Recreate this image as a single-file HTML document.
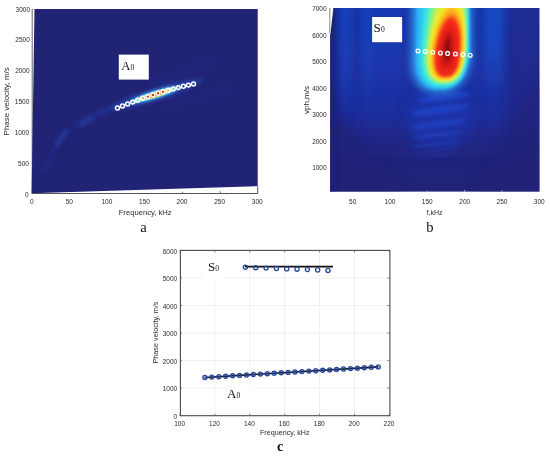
<!DOCTYPE html><html><head><meta charset="utf-8"><title>Phase velocity figure</title>
<style>html,body{margin:0;padding:0;background:#fff;}svg{display:block}.t{font-family:"Liberation Sans",sans-serif;fill:#2a2a2a}.s{font-family:"Liberation Serif",serif;fill:#111}</style></head><body>
<svg width="550" height="459" viewBox="0 0 550 459">
<defs>
<radialGradient id="ga" cx="0.5" cy="0.5" r="0.5">
<stop offset="0" stop-color="#e82818"/>
<stop offset="0.27" stop-color="#ee3a1a"/>
<stop offset="0.35" stop-color="#f59a20"/>
<stop offset="0.41" stop-color="#ece83c"/>
<stop offset="0.49" stop-color="#90f0b0"/>
<stop offset="0.58" stop-color="#58d0f0" stop-opacity="0.95"/>
<stop offset="0.76" stop-color="#2c6cd8" stop-opacity="0.6"/>
<stop offset="1" stop-color="#212375" stop-opacity="0"/>
</radialGradient>
<linearGradient id="bgbase" x1="0" y1="0" x2="0" y2="1">
<stop offset="0" stop-color="#1f2c94"/>
<stop offset="0.6" stop-color="#20288a"/>
<stop offset="0.85" stop-color="#21247a"/>
<stop offset="1" stop-color="#212377"/>
</linearGradient>
<linearGradient id="bgb" x1="0" y1="0" x2="0" y2="1">
<stop offset="0" stop-color="#183cb8"/>
<stop offset="0.5" stop-color="#1a36ae"/>
<stop offset="0.75" stop-color="#1c2ea0" stop-opacity="0.75"/>
<stop offset="1" stop-color="#212377" stop-opacity="0"/>
</linearGradient>
<linearGradient id="fadeDown" x1="0" y1="0" x2="0" y2="1">
<stop offset="0" stop-color="#fff" stop-opacity="1"/>
<stop offset="0.6" stop-color="#fff" stop-opacity="0.8"/>
<stop offset="1" stop-color="#fff" stop-opacity="0"/>
</linearGradient>
<filter id="bl15" filterUnits="userSpaceOnUse" x="-50" y="-100" width="650" height="660"><feGaussianBlur stdDeviation="1.5"/></filter>
<filter id="bl2" filterUnits="userSpaceOnUse" x="-50" y="-100" width="650" height="660"><feGaussianBlur stdDeviation="2"/></filter>
<filter id="bl3" filterUnits="userSpaceOnUse" x="-50" y="-100" width="650" height="660"><feGaussianBlur stdDeviation="3"/></filter>
<filter id="bl4" filterUnits="userSpaceOnUse" x="-50" y="-100" width="650" height="660"><feGaussianBlur stdDeviation="4"/></filter>
<filter id="bl6" filterUnits="userSpaceOnUse" x="-50" y="-100" width="650" height="660"><feGaussianBlur stdDeviation="6"/></filter>
<filter id="bl1" filterUnits="userSpaceOnUse" x="-50" y="-100" width="650" height="660"><feGaussianBlur stdDeviation="0.9"/></filter>
<clipPath id="ca"><polygon points="34.5,9.1 257.7,9.1 257.7,186.1 31.6,193.2"/></clipPath>
<clipPath id="cb"><rect x="330.2" y="8" width="209.3" height="183.6"/></clipPath>
</defs>
<rect width="550" height="459" fill="#fff"/>
<g id="plot-a">
<path d="M32.2 9V193.5" stroke="#666" stroke-width="1" fill="none"/>
<polygon points="34.5,9.1 257.7,9.1 257.7,186.1 31.6,193.2" fill="#212375"/>
<g clip-path="url(#ca)">
<path d="M44 172 Q52 150 66 132 Q84 116 108 108" stroke="#2a44b4" stroke-width="3" fill="none" opacity="0.3" filter="url(#bl2)"/>
<path d="M56 146 Q60 138 67 130" stroke="#2c56c8" stroke-width="4" fill="none" opacity="0.5" filter="url(#bl2)"/>
<path d="M79 127 Q86 121 94 117" stroke="#2c56c8" stroke-width="4" fill="none" opacity="0.5" filter="url(#bl2)"/>
<path d="M96 116 L108 110" stroke="#2c56c8" stroke-width="3" fill="none" opacity="0.4" filter="url(#bl2)"/>
<path d="M150 84 L215 60" stroke="#2c50c0" stroke-width="6" fill="none" opacity="0.15" filter="url(#bl3)"/>
<path d="M160 100 L235 92" stroke="#2c50c0" stroke-width="5" fill="none" opacity="0.1" filter="url(#bl3)"/>
<g transform="translate(155.2,94.6) rotate(-17.2)">
<ellipse cx="0" cy="0" rx="50" ry="6" fill="#2c5cd0" opacity="0.5" filter="url(#bl2)"/>
<ellipse cx="0" cy="0" rx="25" ry="4.2" fill="#a8f0ff" opacity="0.55" filter="url(#bl15)"/>
<ellipse cx="0" cy="0" rx="36" ry="5.6" fill="url(#ga)"/>
</g>
</g>
<path d="M31.7 193.5H257.7V186" stroke="#555" stroke-width="1" fill="none"/>
<path d="M220.2 193V191.2M182.6 193V191.8" stroke="#555" stroke-width="0.8" fill="none"/>
<circle cx="117.5" cy="108.0" r="1.95" fill="none" stroke="#fff" stroke-width="1.5"/>
<circle cx="122.5" cy="106.0" r="1.95" fill="none" stroke="#fff" stroke-width="1.5"/>
<circle cx="127.6" cy="104.0" r="1.95" fill="none" stroke="#fff" stroke-width="1.5"/>
<circle cx="132.7" cy="102.1" r="1.95" fill="none" stroke="#fff" stroke-width="1.5"/>
<circle cx="137.7" cy="100.2" r="1.95" fill="none" stroke="#fff" stroke-width="1.5"/>
<circle cx="142.8" cy="98.3" r="1.95" fill="none" stroke="#fff" stroke-width="1.5"/>
<circle cx="147.9" cy="96.6" r="1.95" fill="none" stroke="#fff" stroke-width="1.5"/>
<circle cx="152.9" cy="94.9" r="1.95" fill="none" stroke="#fff" stroke-width="1.5"/>
<circle cx="158.0" cy="93.3" r="1.95" fill="none" stroke="#fff" stroke-width="1.5"/>
<circle cx="163.1" cy="91.7" r="1.95" fill="none" stroke="#fff" stroke-width="1.5"/>
<circle cx="168.2" cy="90.3" r="1.95" fill="none" stroke="#fff" stroke-width="1.5"/>
<circle cx="173.2" cy="88.9" r="1.95" fill="none" stroke="#fff" stroke-width="1.5"/>
<circle cx="178.3" cy="87.6" r="1.95" fill="none" stroke="#fff" stroke-width="1.5"/>
<circle cx="183.4" cy="86.3" r="1.95" fill="none" stroke="#fff" stroke-width="1.5"/>
<circle cx="188.4" cy="85.1" r="1.95" fill="none" stroke="#fff" stroke-width="1.5"/>
<circle cx="193.5" cy="83.9" r="1.95" fill="none" stroke="#fff" stroke-width="1.5"/>
<rect x="118.8" y="54.6" width="30" height="25" fill="#fff"/>
<text class="s" x="121.2" y="69.7" font-size="12.8">A<tspan font-size="7.6">0</tspan></text>
<text class="t" x="31.7" y="204.3" font-size="6.5" text-anchor="middle">0</text>
<text class="t" x="69.3" y="204.3" font-size="6.5" text-anchor="middle">50</text>
<text class="t" x="106.9" y="204.3" font-size="6.5" text-anchor="middle">100</text>
<text class="t" x="144.5" y="204.3" font-size="6.5" text-anchor="middle">150</text>
<text class="t" x="182.0" y="204.3" font-size="6.5" text-anchor="middle">200</text>
<text class="t" x="219.6" y="204.3" font-size="6.5" text-anchor="middle">250</text>
<text class="t" x="257.2" y="204.3" font-size="6.5" text-anchor="middle">300</text>
<text class="t" x="28.7" y="197.0" font-size="6.5" text-anchor="end">0</text>
<text class="t" x="28.9" y="166.1" font-size="6.5" text-anchor="end">500</text>
<text class="t" x="29.1" y="135.1" font-size="6.5" text-anchor="end">1000</text>
<text class="t" x="29.3" y="104.2" font-size="6.5" text-anchor="end">1500</text>
<text class="t" x="29.6" y="73.2" font-size="6.5" text-anchor="end">2000</text>
<text class="t" x="29.8" y="42.2" font-size="6.5" text-anchor="end">2500</text>
<text class="t" x="30.0" y="12.0" font-size="6.5" text-anchor="end">3000</text>
<text class="t" x="118.7" y="215" font-size="8" textLength="53" lengthAdjust="spacingAndGlyphs">Frequency, kHz</text>
<text class="t" transform="translate(9,135.4) rotate(-90)" font-size="8.1" textLength="68.2" lengthAdjust="spacingAndGlyphs">Phase velocity, m/s</text>
<text class="s" x="143.6" y="231.8" font-size="14.6" text-anchor="middle">a</text>
</g>
<g id="plot-b">
<rect x="330.2" y="8" width="209.3" height="183.6" fill="url(#bgbase)"/>
<g clip-path="url(#cb)">
<rect x="338" y="-30" width="167" height="195" fill="url(#bgb)" filter="url(#bl6)"/>
<polygon points="322,95 322,200 410,200" fill="#212377" opacity="0.7" filter="url(#bl6)"/>
<polygon points="545,70 545,200 470,200" fill="#212377" opacity="0.6" filter="url(#bl6)"/>
<rect x="326" y="0" width="10" height="200" fill="#1f2272" opacity="0.8" filter="url(#bl2)"/>
<linearGradient id="bg340" x1="0" y1="0" x2="0" y2="1"><stop offset="0" stop-color="#1a4cc4"/><stop offset="0.55" stop-color="#1a4cc4" stop-opacity="0.8"/><stop offset="1" stop-color="#1a4cc4" stop-opacity="0"/></linearGradient>
<rect x="340" y="-20" width="12" height="140" fill="url(#bg340)" opacity="0.45" filter="url(#bl3)"/>
<linearGradient id="bg354" x1="0" y1="0" x2="0" y2="1"><stop offset="0" stop-color="#202880"/><stop offset="0.55" stop-color="#202880" stop-opacity="0.8"/><stop offset="1" stop-color="#202880" stop-opacity="0"/></linearGradient>
<rect x="354" y="-20" width="6" height="160" fill="url(#bg354)" opacity="0.5" filter="url(#bl3)"/>
<linearGradient id="bg362" x1="0" y1="0" x2="0" y2="1"><stop offset="0" stop-color="#1a4cc4"/><stop offset="0.55" stop-color="#1a4cc4" stop-opacity="0.8"/><stop offset="1" stop-color="#1a4cc4" stop-opacity="0"/></linearGradient>
<rect x="362" y="-20" width="10" height="140" fill="url(#bg362)" opacity="0.4" filter="url(#bl3)"/>
<linearGradient id="bg402" x1="0" y1="0" x2="0" y2="1"><stop offset="0" stop-color="#202880"/><stop offset="0.55" stop-color="#202880" stop-opacity="0.8"/><stop offset="1" stop-color="#202880" stop-opacity="0"/></linearGradient>
<rect x="402" y="-20" width="9" height="150" fill="url(#bg402)" opacity="0.4" filter="url(#bl3)"/>
<linearGradient id="bg474" x1="0" y1="0" x2="0" y2="1"><stop offset="0" stop-color="#202880"/><stop offset="0.55" stop-color="#202880" stop-opacity="0.8"/><stop offset="1" stop-color="#202880" stop-opacity="0"/></linearGradient>
<rect x="474" y="-20" width="8" height="150" fill="url(#bg474)" opacity="0.35" filter="url(#bl3)"/>
<linearGradient id="bg485" x1="0" y1="0" x2="0" y2="1"><stop offset="0" stop-color="#1a54c8"/><stop offset="0.55" stop-color="#1a54c8" stop-opacity="0.8"/><stop offset="1" stop-color="#1a54c8" stop-opacity="0"/></linearGradient>
<rect x="485" y="-20" width="18" height="120" fill="url(#bg485)" opacity="0.7" filter="url(#bl3)"/>
<ellipse cx="440" cy="118" rx="34" ry="32" fill="#1c34b0" opacity="0.55" filter="url(#bl6)"/>
<ellipse cx="444" cy="97" rx="27" ry="3.8" fill="#2450dc" opacity="0.51" filter="url(#bl15)" transform="rotate(-8 444 97)"/>
<ellipse cx="440" cy="110" rx="29" ry="4.6" fill="#2450dc" opacity="0.47" filter="url(#bl15)" transform="rotate(-8 440 110)"/>
<ellipse cx="438" cy="124" rx="27" ry="3.8" fill="#2450dc" opacity="0.42" filter="url(#bl15)" transform="rotate(-8 438 124)"/>
<ellipse cx="436" cy="135" rx="26" ry="2.6" fill="#2450dc" opacity="0.36" filter="url(#bl15)" transform="rotate(-8 436 135)"/>
<ellipse cx="434" cy="144" rx="26" ry="1.7" fill="#2450dc" opacity="0.30" filter="url(#bl15)" transform="rotate(-8 434 144)"/>
<ellipse cx="434" cy="150.5" rx="27" ry="1.3" fill="#2450dc" opacity="0.24" filter="url(#bl15)" transform="rotate(-8 434 150.5)"/>
<ellipse cx="434" cy="156.5" rx="28" ry="1.1" fill="#2450dc" opacity="0.17" filter="url(#bl15)" transform="rotate(-8 434 156.5)"/>
<polygon points="471.1,52.0 470.6,57.7 470.0,61.9 469.2,65.6 468.3,69.0 467.3,72.1 466.1,75.0 464.7,77.6 463.2,80.1 461.5,82.3 459.7,84.3 457.8,86.1 455.7,87.7 453.5,89.0 451.1,90.1 448.5,90.9 445.7,91.5 442.6,91.9 438.4,92.0 434.2,91.9 431.2,91.5 428.5,90.9 426.1,90.1 423.8,89.0 421.8,87.7 420.0,86.1 418.3,84.3 416.8,82.3 415.5,80.1 414.4,77.6 413.5,75.0 412.7,72.1 412.2,69.0 411.8,65.6 411.7,61.9 411.7,57.7 412.1,52.0 412.3,25.9 412.8,-0.1 413.6,-25.6 414.7,-50.6 416.1,-74.8 417.8,-98.0 419.7,-120.1 421.8,-140.8 424.1,-160.1 426.4,-177.8 428.8,-193.7 431.2,-207.8 433.5,-219.9 435.7,-229.9 437.7,-237.8 439.5,-243.4 440.8,-246.9 441.6,-248.0 442.4,-246.9 443.7,-243.4 445.5,-237.8 447.5,-229.9 449.7,-219.9 452.0,-207.8 454.4,-193.7 456.8,-177.8 459.1,-160.1 461.4,-140.8 463.5,-120.1 465.4,-98.0 467.1,-74.8 468.5,-50.6 469.6,-25.6 470.4,-0.1 470.9,25.9" fill="#30a2ee" filter="url(#bl4)"/>
<g filter="url(#bl1)">
<polygon points="470.0,52.0 469.5,57.3 468.9,61.2 468.2,64.7 467.4,67.9 466.5,70.8 465.3,73.5 464.1,76.0 462.7,78.3 461.2,80.4 459.5,82.3 457.8,84.0 455.8,85.4 453.8,86.7 451.6,87.7 449.2,88.5 446.7,89.0 443.8,89.4 440.0,89.5 436.2,89.4 433.4,89.0 430.9,88.5 428.7,87.7 426.7,86.7 424.8,85.4 423.1,84.0 421.6,82.3 420.3,80.4 419.1,78.3 418.1,76.0 417.2,73.5 416.5,70.8 416.0,67.9 415.7,64.7 415.6,61.2 415.7,57.3 416.0,52.0 416.2,25.9 416.6,-0.1 417.4,-25.6 418.4,-50.6 419.7,-74.8 421.2,-98.0 423.0,-120.1 424.9,-140.8 426.9,-160.1 429.1,-177.8 431.3,-193.7 433.5,-207.8 435.6,-219.9 437.6,-229.9 439.4,-237.8 441.0,-243.4 442.3,-246.9 443.0,-248.0 443.7,-246.9 445.0,-243.4 446.6,-237.8 448.4,-229.9 450.4,-219.9 452.5,-207.8 454.7,-193.7 456.9,-177.8 459.1,-160.1 461.1,-140.8 463.0,-120.1 464.8,-98.0 466.3,-74.8 467.6,-50.6 468.6,-25.6 469.4,-0.1 469.8,25.9" fill="#2cacf4"/>
<polygon points="469.3,52.0 468.8,57.2 468.3,61.0 467.6,64.4 466.8,67.5 465.9,70.4 464.8,73.0 463.6,75.5 462.3,77.7 460.8,79.7 459.3,81.6 457.5,83.2 455.7,84.6 453.7,85.8 451.6,86.8 449.4,87.6 446.9,88.2 444.2,88.5 440.5,88.6 436.8,88.5 434.2,88.2 431.8,87.6 429.7,86.8 427.7,85.8 425.9,84.6 424.3,83.2 422.9,81.6 421.6,79.7 420.5,77.7 419.5,75.5 418.7,73.0 418.0,70.4 417.5,67.5 417.2,64.4 417.1,61.0 417.2,57.2 417.5,52.0 418.0,30.2 418.7,8.6 419.7,-12.7 421.0,-33.5 422.5,-53.7 424.2,-73.0 426.1,-91.4 428.2,-108.7 430.4,-124.8 432.6,-139.5 434.9,-152.8 437.2,-164.5 439.3,-174.6 441.4,-182.9 443.2,-189.5 444.8,-194.2 446.1,-197.0 446.8,-198.0 447.4,-197.0 448.6,-194.2 450.1,-189.5 451.7,-182.9 453.6,-174.6 455.5,-164.5 457.4,-152.8 459.3,-139.5 461.2,-124.8 462.9,-108.7 464.5,-91.4 466.0,-73.0 467.2,-53.7 468.2,-33.5 468.9,-12.7 469.3,8.6 469.5,30.2" fill="#2dbbf3"/>
<polygon points="468.7,52.0 468.2,57.1 467.7,60.8 467.0,64.1 466.3,67.1 465.4,69.9 464.3,72.5 463.2,74.9 461.9,77.1 460.5,79.1 459.0,80.8 457.3,82.4 455.6,83.8 453.7,85.0 451.7,86.0 449.5,86.7 447.2,87.3 444.5,87.6 441.0,87.7 437.5,87.6 434.9,87.3 432.7,86.7 430.6,86.0 428.8,85.0 427.1,83.8 425.5,82.4 424.1,80.8 422.9,79.1 421.8,77.1 420.9,74.9 420.1,72.5 419.5,69.9 419.1,67.1 418.8,64.1 418.7,60.8 418.7,57.1 419.1,52.0 419.7,34.6 420.6,17.3 421.7,0.2 423.1,-16.4 424.7,-32.5 426.5,-48.0 428.5,-62.7 430.7,-76.6 432.9,-89.4 435.2,-101.2 437.5,-111.8 439.7,-121.2 441.9,-129.3 443.9,-135.9 445.8,-141.2 447.3,-145.0 448.5,-147.2 449.2,-148.0 449.8,-147.2 450.9,-145.0 452.3,-141.2 453.8,-135.9 455.5,-129.3 457.3,-121.2 459.0,-111.8 460.7,-101.2 462.4,-89.4 463.9,-76.6 465.3,-62.7 466.5,-48.0 467.5,-32.5 468.3,-16.4 468.8,0.2 469.0,17.3 469.0,34.6" fill="#2fc9f1"/>
<polygon points="468.0,52.0 467.5,56.9 467.0,60.6 466.4,63.8 465.7,66.8 464.8,69.5 463.8,72.0 462.7,74.3 461.5,76.4 460.2,78.4 458.7,80.1 457.1,81.7 455.4,83.0 453.6,84.2 451.7,85.1 449.6,85.8 447.4,86.4 444.9,86.7 441.5,86.8 438.2,86.7 435.7,86.4 433.6,85.8 431.6,85.1 429.8,84.2 428.2,83.0 426.7,81.7 425.4,80.1 424.2,78.4 423.2,76.4 422.3,74.3 421.6,72.0 421.0,69.5 420.6,66.8 420.3,63.8 420.2,60.6 420.3,56.9 420.6,52.0 421.3,38.9 422.2,26.0 423.4,13.2 424.8,0.7 426.4,-11.4 428.2,-23.0 430.2,-34.0 432.3,-44.4 434.5,-54.1 436.7,-62.9 438.9,-70.9 441.1,-77.9 443.2,-83.9 445.2,-89.0 447.0,-92.9 448.5,-95.7 449.7,-97.4 450.3,-98.0 450.9,-97.4 451.9,-95.7 453.2,-92.9 454.7,-89.0 456.2,-83.9 457.9,-77.9 459.5,-70.9 461.1,-62.9 462.6,-54.1 464.0,-44.4 465.3,-34.0 466.4,-23.0 467.3,-11.4 467.9,0.7 468.4,13.2 468.5,26.0 468.4,38.9" fill="#30d8f0"/>
<polygon points="467.6,52.0 467.1,56.8 466.7,60.4 466.1,63.5 465.3,66.4 464.5,69.1 463.5,71.5 462.5,73.8 461.3,75.9 460.0,77.8 458.6,79.5 457.1,81.0 455.4,82.3 453.7,83.5 451.8,84.4 449.8,85.1 447.7,85.6 445.2,85.9 442.0,86.0 438.7,85.9 436.4,85.6 434.3,85.1 432.4,84.4 430.7,83.5 429.1,82.3 427.7,81.0 426.4,79.5 425.3,77.8 424.3,75.9 423.4,73.8 422.7,71.5 422.2,69.1 421.8,66.4 421.5,63.5 421.4,60.4 421.5,56.8 421.8,52.0 422.5,40.0 423.4,28.1 424.5,16.4 425.9,4.9 427.5,-6.2 429.2,-16.8 431.1,-27.0 433.2,-36.5 435.3,-45.3 437.5,-53.5 439.6,-60.8 441.8,-67.2 443.8,-72.8 445.7,-77.4 447.4,-81.0 448.9,-83.6 450.1,-85.1 450.7,-85.7 451.2,-85.1 452.2,-83.6 453.5,-81.0 454.9,-77.4 456.4,-72.8 458.0,-67.2 459.5,-60.8 461.1,-53.5 462.5,-45.3 463.9,-36.5 465.1,-27.0 466.1,-16.8 467.0,-6.2 467.6,4.9 468.0,16.4 468.1,28.1 468.0,40.0" fill="#3be0e0"/>
<polygon points="467.2,52.0 466.8,56.7 466.3,60.2 465.7,63.3 465.0,66.1 464.2,68.7 463.3,71.1 462.2,73.3 461.1,75.4 459.8,77.2 458.5,78.9 457.0,80.4 455.4,81.7 453.7,82.7 451.9,83.7 450.0,84.4 447.9,84.9 445.6,85.2 442.4,85.3 439.3,85.2 437.0,84.9 435.0,84.4 433.2,83.7 431.5,82.7 430.0,81.7 428.7,80.4 427.4,78.9 426.3,77.2 425.4,75.4 424.6,73.3 423.9,71.1 423.3,68.7 422.9,66.1 422.7,63.3 422.6,60.2 422.7,56.7 423.0,52.0 423.6,41.1 424.5,30.2 425.6,19.6 427.0,9.1 428.5,-1.0 430.2,-10.7 432.1,-19.9 434.0,-28.6 436.1,-36.6 438.2,-44.0 440.3,-50.7 442.4,-56.5 444.3,-61.6 446.2,-65.8 447.8,-69.1 449.3,-71.4 450.4,-72.9 450.9,-73.3 451.5,-72.9 452.5,-71.4 453.7,-69.1 455.0,-65.8 456.5,-61.6 458.0,-56.5 459.5,-50.7 461.0,-44.0 462.4,-36.6 463.7,-28.6 464.8,-19.9 465.8,-10.7 466.6,-1.0 467.2,9.1 467.6,19.6 467.7,30.2 467.6,41.1" fill="#45e8d0"/>
<polygon points="466.8,52.0 466.4,56.6 465.9,60.0 465.3,63.0 464.7,65.8 463.9,68.3 463.0,70.7 462.0,72.8 460.9,74.8 459.7,76.6 458.4,78.3 456.9,79.7 455.4,81.0 453.8,82.0 452.1,82.9 450.2,83.6 448.2,84.1 445.9,84.4 442.9,84.5 439.9,84.4 437.7,84.1 435.7,83.6 434.0,82.9 432.4,82.0 430.9,81.0 429.6,79.7 428.4,78.3 427.4,76.6 426.5,74.8 425.7,72.8 425.0,70.7 424.5,68.3 424.1,65.8 423.9,63.0 423.8,60.0 423.9,56.6 424.2,52.0 424.8,42.2 425.7,32.4 426.7,22.8 428.0,13.4 429.5,4.2 431.2,-4.5 432.9,-12.8 434.9,-20.6 436.8,-27.9 438.9,-34.6 440.9,-40.6 442.9,-45.9 444.8,-50.4 446.5,-54.2 448.2,-57.1 449.5,-59.3 450.6,-60.6 451.1,-61.0 451.7,-60.6 452.6,-59.3 453.8,-57.1 455.1,-54.2 456.5,-50.4 457.9,-45.9 459.4,-40.6 460.8,-34.6 462.2,-27.9 463.4,-20.6 464.5,-12.8 465.5,-4.5 466.3,4.2 466.8,13.4 467.2,22.8 467.3,32.4 467.2,42.2" fill="#50f0c0"/>
<polygon points="466.4,52.0 465.9,56.5 465.5,59.8 464.9,62.8 464.3,65.5 463.5,68.0 462.7,70.3 461.7,72.4 460.6,74.4 459.4,76.1 458.2,77.7 456.8,79.1 455.3,80.4 453.7,81.4 452.1,82.3 450.3,83.0 448.3,83.4 446.1,83.7 443.2,83.8 440.3,83.7 438.1,83.4 436.3,83.0 434.6,82.3 433.0,81.4 431.6,80.4 430.3,79.1 429.2,77.7 428.2,76.1 427.3,74.4 426.5,72.4 425.9,70.3 425.4,68.0 425.0,65.5 424.8,62.8 424.7,59.8 424.8,56.5 425.1,52.0 425.7,43.1 426.6,34.2 427.6,25.4 428.9,16.9 430.3,8.6 431.9,0.7 433.7,-6.9 435.5,-14.0 437.4,-20.6 439.4,-26.6 441.4,-32.1 443.3,-36.9 445.2,-41.0 446.9,-44.5 448.5,-47.2 449.9,-49.1 451.0,-50.3 451.6,-50.7 452.1,-50.3 453.0,-49.1 454.2,-47.2 455.5,-44.5 456.8,-41.0 458.2,-36.9 459.6,-32.1 461.0,-26.6 462.3,-20.6 463.4,-14.0 464.5,-6.9 465.4,0.7 466.1,8.6 466.6,16.9 466.8,25.4 466.9,34.2 466.8,43.1" fill="#6bf0a5"/>
<polygon points="465.9,52.0 465.5,56.4 465.1,59.7 464.5,62.6 463.9,65.2 463.2,67.6 462.3,69.9 461.4,72.0 460.3,73.9 459.2,75.6 458.0,77.2 456.6,78.6 455.2,79.8 453.7,80.8 452.1,81.7 450.3,82.3 448.4,82.8 446.3,83.1 443.5,83.2 440.6,83.1 438.6,82.8 436.8,82.3 435.1,81.7 433.6,80.8 432.3,79.8 431.0,78.6 429.9,77.2 428.9,75.6 428.1,73.9 427.3,72.0 426.7,69.9 426.3,67.6 425.9,65.2 425.7,62.6 425.6,59.7 425.7,56.4 426.0,52.0 426.6,44.0 427.4,36.0 428.5,28.1 429.7,20.4 431.1,13.0 432.6,5.8 434.3,-1.0 436.1,-7.4 438.0,-13.3 439.8,-18.7 441.8,-23.6 443.6,-28.0 445.5,-31.7 447.2,-34.8 448.7,-37.2 450.1,-38.9 451.2,-40.0 451.8,-40.3 452.4,-40.0 453.3,-38.9 454.5,-37.2 455.8,-34.8 457.1,-31.7 458.4,-28.0 459.8,-23.6 461.0,-18.7 462.3,-13.3 463.4,-7.4 464.3,-1.0 465.1,5.8 465.8,13.0 466.2,20.4 466.5,28.1 466.5,36.0 466.3,44.0" fill="#85f08b"/>
<polygon points="465.5,52.0 465.1,56.3 464.7,59.5 464.1,62.3 463.5,64.9 462.8,67.3 462.0,69.5 461.1,71.6 460.1,73.4 459.0,75.1 457.8,76.6 456.5,78.0 455.1,79.2 453.6,80.2 452.1,81.0 450.4,81.7 448.5,82.1 446.5,82.4 443.8,82.5 441.0,82.4 439.0,82.1 437.3,81.7 435.7,81.0 434.3,80.2 432.9,79.2 431.7,78.0 430.7,76.6 429.7,75.1 428.9,73.4 428.2,71.6 427.6,69.5 427.1,67.3 426.8,64.9 426.6,62.3 426.5,59.5 426.6,56.3 426.9,52.0 427.5,44.9 428.3,37.8 429.3,30.8 430.5,24.0 431.8,17.3 433.3,11.0 434.9,5.0 436.6,-0.7 438.4,-6.0 440.2,-10.8 442.0,-15.2 443.9,-19.0 445.6,-22.3 447.3,-25.1 448.8,-27.2 450.2,-28.8 451.3,-29.7 451.9,-30.0 452.6,-29.7 453.5,-28.8 454.7,-27.2 455.9,-25.1 457.2,-22.3 458.5,-19.0 459.8,-15.2 461.0,-10.8 462.1,-6.0 463.2,-0.7 464.1,5.0 464.8,11.0 465.4,17.3 465.9,24.0 466.1,30.8 466.1,37.8 465.9,44.9" fill="#a0f070"/>
<polygon points="465.1,52.0 464.7,56.3 464.3,59.4 463.8,62.2 463.2,64.7 462.5,67.1 461.7,69.2 460.8,71.2 459.8,73.1 458.7,74.7 457.6,76.2 456.3,77.6 455.0,78.7 453.6,79.7 452.0,80.5 450.4,81.2 448.6,81.6 446.6,81.9 444.0,82.0 441.3,81.9 439.4,81.6 437.7,81.2 436.1,80.5 434.7,79.7 433.5,78.7 432.3,77.6 431.3,76.2 430.4,74.7 429.5,73.1 428.9,71.2 428.3,69.2 427.8,67.1 427.5,64.7 427.3,62.2 427.3,59.4 427.3,56.3 427.6,52.0 428.2,45.5 429.0,39.1 430.0,32.7 431.1,26.5 432.4,20.5 433.8,14.7 435.4,9.2 437.0,4.1 438.7,-0.7 440.5,-5.1 442.3,-9.1 444.1,-12.5 445.8,-15.6 447.4,-18.0 448.9,-20.0 450.3,-21.4 451.4,-22.2 452.1,-22.5 452.7,-22.2 453.7,-21.4 454.8,-20.0 456.1,-18.0 457.3,-15.6 458.6,-12.5 459.8,-9.1 461.0,-5.1 462.1,-0.7 463.1,4.1 463.9,9.2 464.6,14.7 465.2,20.5 465.5,26.5 465.7,32.7 465.7,39.1 465.5,45.5" fill="#b8f05b"/>
<polygon points="464.7,52.0 464.3,56.2 463.9,59.3 463.4,62.0 462.8,64.5 462.1,66.8 461.4,68.9 460.5,70.9 459.6,72.7 458.5,74.4 457.4,75.8 456.2,77.1 454.9,78.3 453.5,79.3 452.0,80.1 450.4,80.7 448.7,81.1 446.8,81.4 444.2,81.5 441.6,81.4 439.7,81.1 438.1,80.7 436.6,80.1 435.2,79.3 434.0,78.3 432.9,77.1 431.9,75.8 431.0,74.4 430.2,72.7 429.5,70.9 429.0,68.9 428.6,66.8 428.2,64.5 428.1,62.0 428.0,59.3 428.1,56.2 428.4,52.0 428.9,46.2 429.7,40.4 430.6,34.6 431.7,29.1 433.0,23.7 434.3,18.5 435.8,13.5 437.4,8.9 439.0,4.6 440.7,0.6 442.5,-2.9 444.2,-6.1 445.8,-8.8 447.4,-11.0 448.9,-12.8 450.3,-14.0 451.4,-14.8 452.1,-15.1 452.8,-14.8 453.8,-14.0 454.9,-12.8 456.1,-11.0 457.4,-8.8 458.6,-6.1 459.8,-2.9 460.9,0.6 461.9,4.6 462.9,8.9 463.7,13.5 464.3,18.5 464.8,23.7 465.2,29.1 465.3,34.6 465.3,40.4 465.1,46.2" fill="#d0f045"/>
<polygon points="464.3,52.0 463.9,56.1 463.5,59.1 463.0,61.8 462.5,64.3 461.8,66.6 461.1,68.7 460.2,70.6 459.3,72.4 458.3,74.0 457.2,75.4 456.0,76.7 454.7,77.8 453.4,78.8 452.0,79.6 450.4,80.2 448.7,80.6 446.9,80.9 444.4,81.0 441.9,80.9 440.1,80.6 438.5,80.2 437.0,79.6 435.7,78.8 434.5,77.8 433.4,76.7 432.5,75.4 431.6,74.0 430.9,72.4 430.2,70.6 429.7,68.7 429.3,66.6 429.0,64.3 428.8,61.8 428.7,59.1 428.8,56.1 429.1,52.0 429.7,46.8 430.4,41.7 431.3,36.6 432.3,31.6 433.5,26.8 434.8,22.2 436.2,17.8 437.7,13.7 439.3,9.9 440.9,6.3 442.5,3.2 444.2,0.4 445.8,-2.0 447.4,-4.0 448.8,-5.6 450.2,-6.7 451.3,-7.4 452.1,-7.6 452.8,-7.4 453.8,-6.7 454.9,-5.6 456.1,-4.0 457.3,-2.0 458.5,0.4 459.6,3.2 460.7,6.3 461.7,9.9 462.6,13.7 463.4,17.8 464.0,22.2 464.5,26.8 464.8,31.6 464.9,36.6 464.9,41.7 464.7,46.8" fill="#e8f030"/>
<polygon points="463.9,52.0 463.6,56.1 463.2,59.0 462.7,61.7 462.1,64.1 461.5,66.4 460.8,68.4 459.9,70.3 459.0,72.1 458.1,73.7 457.0,75.1 455.8,76.4 454.6,77.5 453.3,78.4 451.9,79.2 450.4,79.8 448.8,80.3 447.0,80.5 444.5,80.6 442.1,80.5 440.3,80.3 438.8,79.8 437.4,79.2 436.1,78.4 434.9,77.5 433.9,76.4 432.9,75.1 432.1,73.7 431.3,72.1 430.7,70.3 430.2,68.4 429.8,66.4 429.5,64.1 429.4,61.7 429.3,59.0 429.4,56.1 429.7,52.0 430.2,47.1 430.9,42.3 431.8,37.5 432.8,32.9 434.0,28.4 435.2,24.0 436.6,19.9 438.0,16.1 439.6,12.5 441.2,9.2 442.8,6.2 444.4,3.6 445.9,1.3 447.5,-0.5 448.9,-2.0 450.3,-3.1 451.4,-3.7 452.2,-3.9 453.0,-3.7 454.0,-3.1 455.1,-2.0 456.3,-0.5 457.5,1.3 458.6,3.6 459.7,6.2 460.7,9.2 461.7,12.5 462.5,16.1 463.2,19.9 463.8,24.1 464.2,28.4 464.5,32.9 464.6,37.5 464.5,42.3 464.3,47.1" fill="#efe82b"/>
<polygon points="463.6,52.0 463.2,56.0 462.8,59.0 462.3,61.6 461.8,64.0 461.2,66.2 460.5,68.2 459.7,70.1 458.8,71.8 457.8,73.4 456.8,74.8 455.7,76.0 454.5,77.1 453.2,78.1 451.8,78.8 450.4,79.4 448.8,79.9 447.0,80.1 444.6,80.2 442.3,80.1 440.6,79.9 439.1,79.4 437.7,78.8 436.4,78.1 435.3,77.1 434.3,76.0 433.4,74.8 432.6,73.4 431.8,71.8 431.2,70.1 430.7,68.2 430.4,66.2 430.1,64.0 429.9,61.6 429.9,59.0 430.0,56.0 430.2,52.0 430.8,47.5 431.5,42.9 432.3,38.5 433.3,34.1 434.4,29.9 435.6,25.9 437.0,22.1 438.4,18.4 439.8,15.1 441.4,12.0 442.9,9.2 444.5,6.8 446.0,4.7 447.5,2.9 449.0,1.6 450.3,0.6 451.5,-0.0 452.3,-0.2 453.1,-0.0 454.1,0.6 455.3,1.6 456.4,2.9 457.5,4.7 458.7,6.8 459.7,9.2 460.7,12.0 461.6,15.1 462.4,18.4 463.0,22.1 463.6,25.9 463.9,29.9 464.2,34.1 464.3,38.5 464.2,42.9 464.0,47.5" fill="#f5e025"/>
<polygon points="463.2,52.0 462.8,55.9 462.5,58.9 462.0,61.4 461.5,63.8 460.9,66.0 460.2,68.0 459.4,69.8 458.5,71.5 457.6,73.1 456.6,74.5 455.5,75.7 454.3,76.8 453.1,77.7 451.8,78.5 450.3,79.0 448.8,79.5 447.1,79.7 444.8,79.8 442.5,79.7 440.8,79.5 439.3,79.0 438.0,78.5 436.8,77.7 435.7,76.8 434.7,75.7 433.8,74.5 433.0,73.1 432.3,71.5 431.8,69.8 431.3,68.0 430.9,66.0 430.6,63.8 430.5,61.4 430.4,58.9 430.5,55.9 430.8,52.0 431.3,47.8 432.0,43.6 432.8,39.4 433.8,35.4 434.9,31.5 436.0,27.7 437.3,24.2 438.7,20.8 440.1,17.7 441.6,14.8 443.1,12.3 444.6,10.0 446.1,8.0 447.5,6.4 449.0,5.2 450.3,4.2 451.4,3.7 452.3,3.5 453.2,3.7 454.2,4.2 455.4,5.2 456.5,6.4 457.6,8.0 458.7,10.0 459.7,12.3 460.6,14.8 461.5,17.7 462.2,20.8 462.8,24.2 463.3,27.8 463.7,31.5 463.9,35.4 463.9,39.4 463.8,43.6 463.6,47.8" fill="#fcd820"/>
<polygon points="462.5,52.3 462.1,56.1 461.8,59.0 461.3,61.4 460.8,63.7 460.3,65.8 459.6,67.8 458.9,69.6 458.0,71.2 457.1,72.7 456.2,74.0 455.1,75.2 454.0,76.3 452.8,77.2 451.6,77.9 450.2,78.5 448.8,78.9 447.1,79.1 445.0,79.2 442.8,79.1 441.2,78.9 439.8,78.5 438.5,77.9 437.4,77.2 436.3,76.3 435.4,75.2 434.5,74.0 433.8,72.7 433.1,71.2 432.6,69.6 432.1,67.8 431.8,65.8 431.5,63.7 431.4,61.4 431.4,59.0 431.4,56.1 431.7,52.3 432.2,48.4 432.8,44.5 433.6,40.6 434.5,36.8 435.4,33.2 436.5,29.7 437.7,26.3 438.9,23.2 440.2,20.3 441.6,17.6 443.0,15.2 444.4,13.1 445.8,11.2 447.2,9.7 448.6,8.5 449.9,7.7 451.1,7.2 452.1,7.0 453.0,7.2 454.1,7.7 455.2,8.5 456.4,9.7 457.4,11.2 458.4,13.1 459.4,15.2 460.3,17.6 461.0,20.3 461.7,23.2 462.2,26.3 462.7,29.7 463.0,33.2 463.2,36.8 463.2,40.6 463.1,44.5 462.9,48.4" fill="#fcbf1d"/>
<polygon points="461.8,52.7 461.5,56.3 461.1,59.1 460.7,61.5 460.2,63.7 459.7,65.7 459.0,67.6 458.3,69.3 457.5,70.9 456.7,72.3 455.8,73.6 454.8,74.8 453.7,75.8 452.6,76.6 451.4,77.3 450.1,77.9 448.7,78.3 447.2,78.5 445.1,78.6 443.1,78.5 441.6,78.3 440.2,77.9 439.0,77.3 438.0,76.6 437.0,75.8 436.1,74.8 435.3,73.6 434.6,72.3 433.9,70.9 433.4,69.3 433.0,67.6 432.7,65.7 432.4,63.7 432.3,61.5 432.3,59.1 432.3,56.3 432.6,52.7 433.1,49.0 433.6,45.3 434.3,41.8 435.1,38.2 436.0,34.8 437.0,31.6 438.1,28.5 439.2,25.6 440.4,22.9 441.6,20.4 442.9,18.1 444.2,16.1 445.6,14.5 446.9,13.0 448.2,11.9 449.5,11.1 450.7,10.7 451.8,10.5 452.9,10.7 454.0,11.1 455.1,11.9 456.2,13.0 457.2,14.5 458.2,16.1 459.1,18.1 459.9,20.4 460.6,22.9 461.2,25.6 461.7,28.5 462.0,31.6 462.3,34.8 462.4,38.2 462.5,41.8 462.4,45.3 462.1,49.0" fill="#fca51b"/>
<polygon points="461.1,53.0 460.8,56.5 460.4,59.2 460.0,61.5 459.6,63.6 459.1,65.6 458.5,67.4 457.8,69.0 457.0,70.6 456.2,71.9 455.4,73.2 454.4,74.3 453.4,75.3 452.4,76.1 451.2,76.8 450.0,77.3 448.7,77.7 447.3,77.9 445.3,78.0 443.3,77.9 441.9,77.7 440.7,77.3 439.5,76.8 438.5,76.1 437.6,75.3 436.7,74.3 436.0,73.2 435.3,71.9 434.7,70.6 434.3,69.0 433.9,67.4 433.5,65.6 433.3,63.6 433.2,61.5 433.2,59.2 433.3,56.5 433.5,53.0 433.9,49.6 434.5,46.2 435.1,42.9 435.8,39.7 436.6,36.5 437.5,33.5 438.5,30.6 439.5,27.9 440.6,25.4 441.7,23.1 442.9,21.1 444.1,19.2 445.4,17.7 446.6,16.4 447.9,15.3 449.1,14.6 450.4,14.1 451.6,14.0 452.8,14.1 453.9,14.6 455.0,15.3 456.1,16.4 457.0,17.7 457.9,19.2 458.7,21.1 459.5,23.1 460.1,25.4 460.6,27.9 461.1,30.6 461.4,33.5 461.6,36.5 461.7,39.7 461.7,42.9 461.6,46.2 461.4,49.6" fill="#fc8c18"/>
<polygon points="460.5,53.3 460.2,56.8 459.9,59.3 459.5,61.5 459.1,63.6 458.6,65.4 458.0,67.2 457.4,68.8 456.7,70.3 455.9,71.6 455.1,72.8 454.2,73.9 453.2,74.8 452.2,75.6 451.1,76.3 450.0,76.8 448.7,77.2 447.3,77.4 445.5,77.5 443.6,77.4 442.3,77.2 441.1,76.8 440.0,76.3 439.0,75.6 438.1,74.8 437.3,73.9 436.6,72.8 436.0,71.6 435.4,70.3 435.0,68.8 434.6,67.2 434.3,65.4 434.1,63.6 434.0,61.5 434.0,59.3 434.0,56.8 434.3,53.3 434.7,50.1 435.2,46.8 435.8,43.6 436.4,40.5 437.2,37.4 438.0,34.5 438.9,31.7 439.9,29.1 441.0,26.7 442.0,24.5 443.2,22.5 444.3,20.7 445.5,19.2 446.7,17.9 447.9,17.0 449.1,16.2 450.3,15.8 451.4,15.7 452.5,15.8 453.6,16.2 454.7,17.0 455.7,17.9 456.6,19.2 457.4,20.7 458.2,22.5 458.9,24.5 459.5,26.7 460.0,29.1 460.5,31.7 460.8,34.5 461.0,37.4 461.1,40.5 461.1,43.6 461.0,46.8 460.8,50.1" fill="#f96c19"/>
<polygon points="460.0,53.7 459.7,57.0 459.4,59.4 459.0,61.6 458.6,63.5 458.1,65.3 457.5,67.0 456.9,68.6 456.3,70.0 455.5,71.3 454.8,72.5 453.9,73.5 453.0,74.4 452.0,75.2 451.0,75.8 449.9,76.3 448.7,76.7 447.4,76.9 445.6,76.9 443.9,76.9 442.6,76.7 441.5,76.3 440.4,75.8 439.5,75.2 438.7,74.4 437.9,73.5 437.2,72.5 436.6,71.3 436.1,70.0 435.7,68.6 435.3,67.0 435.0,65.3 434.8,63.5 434.7,61.6 434.7,59.4 434.8,57.0 435.0,53.7 435.4,50.5 435.9,47.4 436.4,44.3 437.1,41.2 437.8,38.3 438.6,35.5 439.4,32.8 440.4,30.3 441.3,28.0 442.4,25.8 443.4,23.9 444.5,22.2 445.6,20.7 446.8,19.5 447.9,18.6 449.0,17.9 450.2,17.5 451.3,17.3 452.3,17.5 453.4,17.9 454.4,18.6 455.3,19.5 456.2,20.7 457.0,22.2 457.7,23.9 458.4,25.8 459.0,28.0 459.5,30.3 459.9,32.8 460.2,35.5 460.4,38.3 460.5,41.2 460.5,44.3 460.4,47.4 460.2,50.5" fill="#f74c1b"/>
<polygon points="459.4,54.0 459.1,57.2 458.8,59.5 458.5,61.6 458.1,63.5 457.6,65.2 457.1,66.9 456.5,68.4 455.9,69.7 455.2,71.0 454.4,72.1 453.6,73.1 452.8,74.0 451.9,74.7 450.9,75.3 449.9,75.8 448.7,76.1 447.5,76.3 445.8,76.4 444.1,76.3 442.9,76.1 441.9,75.8 440.9,75.3 440.0,74.7 439.2,74.0 438.5,73.1 437.9,72.1 437.3,71.0 436.8,69.7 436.4,68.4 436.1,66.9 435.8,65.2 435.6,63.5 435.5,61.6 435.5,59.5 435.6,57.2 435.8,54.0 436.1,50.9 436.6,47.9 437.1,44.9 437.7,42.0 438.4,39.2 439.1,36.5 439.9,33.9 440.8,31.5 441.7,29.3 442.7,27.2 443.7,25.3 444.7,23.7 445.8,22.3 446.9,21.1 447.9,20.2 449.0,19.5 450.1,19.1 451.1,19.0 452.1,19.1 453.1,19.5 454.0,20.2 454.9,21.1 455.8,22.3 456.5,23.7 457.2,25.3 457.9,27.2 458.4,29.3 458.9,31.5 459.3,33.9 459.6,36.5 459.8,39.2 459.9,42.0 459.9,44.9 459.8,47.9 459.7,50.9" fill="#f42c1c"/>
<polygon points="458.5,53.7 458.2,56.7 457.9,58.9 457.6,60.8 457.2,62.6 456.8,64.3 456.3,65.8 455.8,67.2 455.2,68.5 454.6,69.7 453.9,70.7 453.1,71.7 452.3,72.5 451.5,73.2 450.6,73.7 449.6,74.2 448.6,74.5 447.5,74.7 445.9,74.8 444.4,74.7 443.3,74.5 442.3,74.2 441.4,73.7 440.6,73.2 439.9,72.5 439.2,71.7 438.6,70.7 438.1,69.7 437.6,68.5 437.3,67.2 436.9,65.8 436.7,64.3 436.5,62.6 436.5,60.8 436.4,58.9 436.5,56.7 436.7,53.7 437.0,50.8 437.4,48.1 437.9,45.3 438.5,42.6 439.1,40.0 439.8,37.5 440.5,35.1 441.3,32.9 442.1,30.8 443.0,28.9 443.9,27.2 444.9,25.7 445.8,24.4 446.8,23.3 447.8,22.4 448.8,21.8 449.8,21.5 450.7,21.3 451.7,21.5 452.6,21.8 453.4,22.4 454.3,23.3 455.0,24.4 455.7,25.7 456.4,27.2 457.0,28.9 457.5,30.8 457.9,32.9 458.3,35.1 458.6,37.5 458.8,40.0 458.9,42.6 458.9,45.3 458.8,48.1 458.7,50.8" fill="#f1291b"/>
<polygon points="457.5,53.3 457.3,56.1 457.0,58.2 456.7,60.0 456.4,61.7 456.0,63.3 455.5,64.7 455.1,66.0 454.5,67.2 453.9,68.3 453.3,69.3 452.6,70.2 451.9,71.0 451.1,71.6 450.3,72.2 449.4,72.6 448.5,72.9 447.4,73.1 446.0,73.1 444.6,73.1 443.6,72.9 442.7,72.6 441.9,72.2 441.1,71.6 440.5,71.0 439.9,70.2 439.3,69.3 438.9,68.3 438.5,67.2 438.1,66.0 437.8,64.7 437.6,63.3 437.5,61.7 437.4,60.0 437.4,58.2 437.5,56.1 437.7,53.3 437.9,50.7 438.3,48.2 438.7,45.7 439.2,43.2 439.8,40.8 440.4,38.5 441.1,36.3 441.8,34.3 442.5,32.4 443.3,30.6 444.2,29.0 445.0,27.6 445.9,26.4 446.8,25.5 447.7,24.7 448.6,24.1 449.5,23.8 450.4,23.7 451.2,23.8 452.1,24.1 452.8,24.7 453.6,25.5 454.3,26.4 455.0,27.6 455.6,29.0 456.1,30.6 456.6,32.4 457.0,34.3 457.3,36.3 457.6,38.5 457.8,40.8 457.9,43.2 457.9,45.7 457.9,48.2 457.7,50.7" fill="#ed271b"/>
<polygon points="456.6,53.0 456.4,55.6 456.1,57.6 455.9,59.3 455.5,60.8 455.2,62.3 454.8,63.6 454.3,64.9 453.8,66.0 453.3,67.0 452.7,67.9 452.1,68.8 451.5,69.5 450.8,70.1 450.0,70.6 449.2,71.0 448.4,71.3 447.4,71.4 446.1,71.5 444.8,71.4 443.9,71.3 443.1,71.0 442.4,70.6 441.7,70.1 441.1,69.5 440.6,68.8 440.1,67.9 439.7,67.0 439.3,66.0 439.0,64.9 438.7,63.6 438.5,62.3 438.4,60.8 438.3,59.3 438.3,57.6 438.4,55.6 438.6,53.0 438.8,50.6 439.2,48.3 439.5,46.0 440.0,43.8 440.5,41.6 441.0,39.5 441.6,37.5 442.3,35.6 443.0,33.9 443.7,32.3 444.4,30.9 445.2,29.6 446.0,28.5 446.8,27.6 447.6,26.9 448.4,26.4 449.2,26.1 450.0,26.0 450.8,26.1 451.6,26.4 452.3,26.9 453.0,27.6 453.6,28.5 454.2,29.6 454.8,30.9 455.2,32.3 455.7,33.9 456.1,35.6 456.4,37.5 456.6,39.5 456.8,41.6 456.9,43.8 456.9,46.0 456.9,48.3 456.8,50.6" fill="#ea241a"/>
<polygon points="455.6,52.5 455.3,54.9 455.1,56.7 454.9,58.3 454.6,59.8 454.3,61.1 453.9,62.4 453.5,63.5 453.1,64.6 452.6,65.5 452.1,66.4 451.5,67.1 450.9,67.8 450.3,68.4 449.7,68.8 448.9,69.2 448.2,69.5 447.3,69.6 446.2,69.7 445.1,69.6 444.2,69.5 443.5,69.2 442.9,68.8 442.3,68.4 441.7,67.8 441.3,67.1 440.8,66.4 440.5,65.5 440.1,64.6 439.9,63.5 439.6,62.4 439.5,61.1 439.4,59.8 439.3,58.3 439.3,56.7 439.4,54.9 439.6,52.5 439.8,50.4 440.0,48.2 440.4,46.1 440.8,44.1 441.2,42.1 441.7,40.2 442.2,38.4 442.8,36.6 443.4,35.1 444.0,33.6 444.7,32.3 445.3,31.1 446.0,30.1 446.8,29.3 447.5,28.7 448.2,28.2 448.9,27.9 449.6,27.8 450.3,27.9 451.0,28.2 451.6,28.7 452.2,29.3 452.8,30.1 453.3,31.1 453.8,32.3 454.3,33.6 454.7,35.1 455.0,36.6 455.3,38.4 455.5,40.2 455.7,42.1 455.8,44.1 455.8,46.1 455.8,48.2 455.7,50.4" fill="#e32119"/>
<polygon points="454.5,52.0 454.3,54.2 454.1,55.9 453.9,57.4 453.7,58.7 453.4,59.9 453.0,61.1 452.7,62.1 452.3,63.1 451.9,64.0 451.4,64.8 450.9,65.5 450.4,66.1 449.9,66.6 449.3,67.1 448.7,67.4 448.0,67.6 447.3,67.8 446.3,67.8 445.3,67.8 444.6,67.6 443.9,67.4 443.4,67.1 442.8,66.6 442.4,66.1 442.0,65.5 441.6,64.8 441.3,64.0 441.0,63.1 440.8,62.1 440.6,61.1 440.4,59.9 440.3,58.7 440.3,57.4 440.3,55.9 440.4,54.2 440.5,52.0 440.7,50.1 440.9,48.1 441.2,46.2 441.5,44.4 441.9,42.6 442.3,40.8 442.8,39.2 443.3,37.6 443.8,36.2 444.3,34.9 444.9,33.7 445.5,32.7 446.1,31.8 446.7,31.0 447.4,30.4 448.0,30.0 448.6,29.8 449.2,29.7 449.8,29.8 450.4,30.0 451.0,30.4 451.5,31.0 452.0,31.8 452.5,32.7 453.0,33.7 453.3,34.9 453.7,36.2 454.0,37.6 454.2,39.2 454.5,40.8 454.6,42.6 454.7,44.4 454.7,46.2 454.7,48.1 454.7,50.1" fill="#dd1d19"/>
<polygon points="453.5,51.5 453.3,53.6 453.1,55.1 452.9,56.4 452.7,57.6 452.5,58.8 452.2,59.8 451.9,60.8 451.5,61.7 451.2,62.5 450.8,63.2 450.4,63.9 449.9,64.4 449.4,64.9 448.9,65.3 448.4,65.6 447.8,65.8 447.2,66.0 446.3,66.0 445.5,66.0 444.9,65.8 444.3,65.6 443.9,65.3 443.4,64.9 443.0,64.4 442.7,63.9 442.3,63.2 442.1,62.5 441.8,61.7 441.6,60.8 441.5,59.8 441.4,58.8 441.3,57.6 441.3,56.4 441.3,55.1 441.4,53.6 441.5,51.5 441.6,49.8 441.8,48.0 442.1,46.3 442.3,44.7 442.7,43.0 443.0,41.5 443.4,40.0 443.8,38.6 444.2,37.4 444.7,36.2 445.2,35.1 445.7,34.2 446.2,33.4 446.8,32.7 447.3,32.2 447.8,31.8 448.4,31.6 448.9,31.5 449.4,31.6 449.9,31.8 450.4,32.2 450.9,32.7 451.3,33.4 451.7,34.2 452.1,35.1 452.4,36.2 452.7,37.4 453.0,38.6 453.2,40.0 453.4,41.5 453.5,43.0 453.6,44.7 453.7,46.3 453.7,48.0 453.6,49.8" fill="#d61a18"/>
<polygon points="452.5,50.8 452.3,52.7 452.2,54.1 452.0,55.4 451.8,56.5 451.6,57.5 451.3,58.5 451.1,59.4 450.8,60.2 450.5,60.9 450.1,61.6 449.8,62.2 449.4,62.7 449.0,63.2 448.6,63.5 448.2,63.8 447.7,64.0 447.1,64.1 446.4,64.2 445.7,64.1 445.2,64.0 444.8,63.8 444.4,63.5 444.0,63.2 443.7,62.7 443.4,62.2 443.1,61.6 442.9,60.9 442.7,60.2 442.6,59.4 442.4,58.5 442.3,57.5 442.3,56.5 442.3,55.4 442.3,54.1 442.4,52.7 442.5,50.8 442.6,49.3 442.8,47.8 443.0,46.3 443.2,44.9 443.4,43.5 443.7,42.2 444.0,40.9 444.4,39.7 444.7,38.6 445.1,37.6 445.5,36.6 446.0,35.8 446.4,35.1 446.8,34.5 447.3,34.1 447.7,33.8 448.2,33.6 448.6,33.5 449.0,33.6 449.4,33.8 449.9,34.1 450.2,34.5 450.6,35.1 451.0,35.8 451.3,36.6 451.6,37.6 451.8,38.6 452.0,39.7 452.2,40.9 452.4,42.2 452.5,43.5 452.6,44.9 452.6,46.3 452.6,47.8 452.6,49.3" fill="#c71717"/>
<polygon points="451.5,50.2 451.3,51.9 451.2,53.2 451.1,54.3 450.9,55.3 450.7,56.3 450.5,57.2 450.3,58.0 450.0,58.7 449.8,59.4 449.5,60.0 449.2,60.5 448.9,61.0 448.6,61.4 448.3,61.7 447.9,62.0 447.5,62.2 447.1,62.3 446.5,62.3 446.0,62.3 445.6,62.2 445.2,62.0 444.9,61.7 444.6,61.4 444.3,61.0 444.1,60.5 443.9,60.0 443.7,59.4 443.6,58.7 443.5,58.0 443.4,57.2 443.3,56.3 443.3,55.3 443.3,54.3 443.3,53.2 443.4,51.9 443.5,50.2 443.6,48.9 443.7,47.6 443.9,46.4 444.0,45.2 444.2,44.0 444.5,42.8 444.7,41.8 445.0,40.7 445.3,39.8 445.6,38.9 445.9,38.2 446.2,37.5 446.6,36.9 446.9,36.4 447.3,36.0 447.6,35.7 448.0,35.6 448.3,35.5 448.7,35.6 449.0,35.7 449.3,36.0 449.6,36.4 449.9,36.9 450.2,37.5 450.5,38.2 450.7,38.9 450.9,39.8 451.1,40.7 451.3,41.8 451.4,42.8 451.5,44.0 451.5,45.2 451.6,46.4 451.6,47.6 451.6,48.9" fill="#b71515"/>
<polygon points="450.5,49.5 450.4,51.1 450.2,52.2 450.1,53.2 450.0,54.2 449.8,55.0 449.7,55.8 449.5,56.6 449.3,57.2 449.1,57.8 448.9,58.4 448.7,58.9 448.4,59.3 448.2,59.7 447.9,60.0 447.7,60.2 447.4,60.4 447.0,60.5 446.6,60.5 446.2,60.5 445.9,60.4 445.6,60.2 445.4,60.0 445.2,59.7 445.0,59.3 444.8,58.9 444.7,58.4 444.6,57.8 444.5,57.2 444.4,56.6 444.3,55.8 444.3,55.0 444.3,54.2 444.3,53.2 444.3,52.2 444.4,51.1 444.5,49.5 444.6,48.5 444.6,47.4 444.8,46.4 444.9,45.4 445.0,44.4 445.2,43.5 445.4,42.6 445.6,41.8 445.8,41.0 446.0,40.3 446.3,39.7 446.5,39.1 446.8,38.6 447.0,38.2 447.3,37.9 447.6,37.7 447.8,37.5 448.1,37.5 448.4,37.5 448.6,37.7 448.9,37.9 449.1,38.2 449.3,38.6 449.5,39.1 449.7,39.7 449.9,40.3 450.0,41.0 450.2,41.8 450.3,42.6 450.4,43.5 450.5,44.4 450.5,45.4 450.6,46.4 450.6,47.4 450.5,48.5" fill="#a81214"/>
<polygon points="449.9,49.3 449.8,50.7 449.7,51.6 449.6,52.5 449.5,53.3 449.4,54.0 449.2,54.7 449.1,55.3 448.9,55.9 448.8,56.4 448.6,56.9 448.4,57.3 448.2,57.7 448.0,58.0 447.8,58.2 447.6,58.4 447.4,58.6 447.1,58.6 446.8,58.7 446.4,58.6 446.2,58.6 445.9,58.4 445.8,58.2 445.6,58.0 445.4,57.7 445.3,57.3 445.2,56.9 445.1,56.4 445.0,55.9 444.9,55.3 444.9,54.7 444.9,54.0 444.9,53.3 444.9,52.5 444.9,51.6 445.0,50.7 445.1,49.3 445.1,48.5 445.2,47.6 445.3,46.7 445.4,45.9 445.5,45.1 445.6,44.3 445.8,43.6 446.0,42.9 446.1,42.3 446.3,41.7 446.5,41.1 446.7,40.7 446.9,40.3 447.1,39.9 447.4,39.7 447.6,39.5 447.8,39.4 448.0,39.3 448.2,39.4 448.4,39.5 448.6,39.7 448.8,39.9 449.0,40.3 449.1,40.7 449.3,41.1 449.4,41.7 449.6,42.3 449.7,42.9 449.8,43.6 449.9,44.3 449.9,45.1 450.0,45.9 450.0,46.7 450.0,47.6 450.0,48.5" fill="#9f1113"/>
<polygon points="449.4,49.2 449.3,50.3 449.2,51.1 449.1,51.8 449.0,52.4 448.9,53.0 448.8,53.6 448.7,54.1 448.6,54.6 448.4,55.0 448.3,55.4 448.2,55.7 448.0,56.0 447.9,56.3 447.7,56.5 447.5,56.6 447.4,56.7 447.2,56.8 446.9,56.8 446.6,56.8 446.4,56.7 446.3,56.6 446.1,56.5 446.0,56.3 445.9,56.0 445.8,55.7 445.7,55.4 445.6,55.0 445.6,54.6 445.5,54.1 445.5,53.6 445.5,53.0 445.5,52.4 445.5,51.8 445.5,51.1 445.6,50.3 445.6,49.2 445.7,48.5 445.7,47.8 445.8,47.1 445.9,46.4 446.0,45.8 446.1,45.2 446.2,44.6 446.3,44.0 446.5,43.5 446.6,43.0 446.8,42.6 446.9,42.2 447.1,41.9 447.2,41.6 447.4,41.4 447.6,41.3 447.7,41.2 447.9,41.2 448.1,41.2 448.2,41.3 448.4,41.4 448.5,41.6 448.7,41.9 448.8,42.2 448.9,42.6 449.0,43.0 449.1,43.5 449.2,44.0 449.3,44.6 449.3,45.2 449.4,45.8 449.4,46.4 449.4,47.1 449.4,47.8 449.4,48.5" fill="#950f11"/>
<polygon points="448.8,49.0 448.7,49.9 448.7,50.5 448.6,51.0 448.5,51.5 448.5,52.0 448.4,52.4 448.3,52.8 448.2,53.2 448.1,53.5 448.0,53.8 447.9,54.1 447.8,54.3 447.7,54.5 447.6,54.7 447.5,54.8 447.3,54.9 447.2,55.0 447.0,55.0 446.8,55.0 446.7,54.9 446.6,54.8 446.5,54.7 446.4,54.5 446.3,54.3 446.3,54.1 446.2,53.8 446.2,53.5 446.1,53.2 446.1,52.8 446.1,52.4 446.1,52.0 446.1,51.5 446.1,51.0 446.1,50.5 446.1,49.9 446.2,49.0 446.2,48.5 446.3,48.0 446.3,47.4 446.4,46.9 446.4,46.5 446.5,46.0 446.6,45.6 446.7,45.1 446.8,44.8 446.9,44.4 447.0,44.1 447.1,43.8 447.2,43.6 447.3,43.4 447.5,43.2 447.6,43.1 447.7,43.0 447.8,43.0 447.9,43.0 448.0,43.1 448.1,43.2 448.2,43.4 448.3,43.6 448.4,43.8 448.5,44.1 448.6,44.4 448.6,44.8 448.7,45.1 448.7,45.6 448.8,46.0 448.8,46.5 448.8,46.9 448.8,47.4 448.8,48.0 448.8,48.5" fill="#8c0e10"/>
</g>
</g>
<polygon points="329.5,7.5 333.4,7.5 330.4,34 329.5,34" fill="#fff"/>
<path d="M329.8 8V33" stroke="#888" stroke-width="1" fill="none"/>
<path d="M464.6 191.6v-1.6M502 191.6v-1.6M427.3 191.6v-1.2" stroke="#cfd4ee" stroke-width="0.8" fill="none"/>
<circle cx="418" cy="51" r="1.9" fill="none" stroke="#fff" stroke-width="1.3"/>
<circle cx="425.2" cy="51.6" r="1.9" fill="none" stroke="#fff" stroke-width="1.3"/>
<circle cx="432.6" cy="52.2" r="1.9" fill="none" stroke="#fff" stroke-width="1.3"/>
<circle cx="440.4" cy="53" r="1.9" fill="none" stroke="#fff" stroke-width="1.3"/>
<circle cx="447.6" cy="53.4" r="1.9" fill="none" stroke="#fff" stroke-width="1.3"/>
<circle cx="455.4" cy="54" r="1.9" fill="none" stroke="#fff" stroke-width="1.3"/>
<circle cx="462.8" cy="54.6" r="1.9" fill="none" stroke="#fff" stroke-width="1.3"/>
<circle cx="470.2" cy="55.2" r="1.9" fill="none" stroke="#fff" stroke-width="1.3"/>
<rect x="372.1" y="17" width="30" height="25.2" fill="#fff"/>
<text class="s" x="373.6" y="32" font-size="13.1">S<tspan font-size="7.6">0</tspan></text>
<text class="t" x="352.7" y="203.7" font-size="6.5" text-anchor="middle">50</text>
<text class="t" x="390.0" y="203.7" font-size="6.5" text-anchor="middle">100</text>
<text class="t" x="427.3" y="203.7" font-size="6.5" text-anchor="middle">150</text>
<text class="t" x="464.7" y="203.7" font-size="6.5" text-anchor="middle">200</text>
<text class="t" x="502.0" y="203.7" font-size="6.5" text-anchor="middle">250</text>
<text class="t" x="539.3" y="203.7" font-size="6.5" text-anchor="middle">300</text>
<text class="t" x="326.6" y="170.3" font-size="6.5" text-anchor="end">1000</text>
<text class="t" x="326.6" y="143.8" font-size="6.5" text-anchor="end">2000</text>
<text class="t" x="326.6" y="117.2" font-size="6.5" text-anchor="end">3000</text>
<text class="t" x="326.6" y="90.6" font-size="6.5" text-anchor="end">4000</text>
<text class="t" x="326.6" y="64.1" font-size="6.5" text-anchor="end">5000</text>
<text class="t" x="326.6" y="37.5" font-size="6.5" text-anchor="end">6000</text>
<text class="t" x="326.6" y="11.0" font-size="6.5" text-anchor="end">7000</text>
<text class="t" x="426.5" y="214.5" font-size="7.4" textLength="16" lengthAdjust="spacingAndGlyphs">f,kHz</text>
<text class="t" transform="translate(308.7,114) rotate(-90)" font-size="7.5" textLength="28" lengthAdjust="spacingAndGlyphs">vph,m/s</text>
<text class="s" x="430" y="231.8" font-size="14.6" text-anchor="middle">b</text>
</g>
<g id="plot-c">
<line x1="214.9" y1="250.4" x2="214.9" y2="415.7" stroke="#e9e9e9" stroke-width="0.7"/>
<line x1="249.8" y1="250.4" x2="249.8" y2="415.7" stroke="#e9e9e9" stroke-width="0.7"/>
<line x1="284.7" y1="250.4" x2="284.7" y2="415.7" stroke="#e9e9e9" stroke-width="0.7"/>
<line x1="319.6" y1="250.4" x2="319.6" y2="415.7" stroke="#e9e9e9" stroke-width="0.7"/>
<line x1="354.5" y1="250.4" x2="354.5" y2="415.7" stroke="#e9e9e9" stroke-width="0.7"/>
<line x1="180.0" y1="388.1" x2="389.4" y2="388.1" stroke="#e9e9e9" stroke-width="0.7"/>
<line x1="180.0" y1="360.6" x2="389.4" y2="360.6" stroke="#e9e9e9" stroke-width="0.7"/>
<line x1="180.0" y1="333.1" x2="389.4" y2="333.1" stroke="#e9e9e9" stroke-width="0.7"/>
<line x1="180.0" y1="305.5" x2="389.4" y2="305.5" stroke="#e9e9e9" stroke-width="0.7"/>
<line x1="180.0" y1="278.0" x2="389.4" y2="278.0" stroke="#e9e9e9" stroke-width="0.7"/>
<rect x="203" y="254" width="20" height="25" fill="#fff"/>
<rect x="225" y="387" width="30" height="23" fill="#fff"/>
<rect x="180.4" y="250.4" width="209.5" height="165.3" fill="none" stroke="#4a4a4a" stroke-width="1.1"/>
<line x1="180.0" y1="415.7" x2="180.0" y2="413.7" stroke="#555" stroke-width="0.7"/>
<line x1="180.0" y1="250.4" x2="180.0" y2="252.4" stroke="#555" stroke-width="0.7"/>
<text class="t" x="179.6" y="425.6" font-size="6.5" text-anchor="middle">100</text>
<line x1="214.9" y1="415.7" x2="214.9" y2="413.7" stroke="#555" stroke-width="0.7"/>
<line x1="214.9" y1="250.4" x2="214.9" y2="252.4" stroke="#555" stroke-width="0.7"/>
<text class="t" x="214.5" y="425.6" font-size="6.5" text-anchor="middle">120</text>
<line x1="249.8" y1="415.7" x2="249.8" y2="413.7" stroke="#555" stroke-width="0.7"/>
<line x1="249.8" y1="250.4" x2="249.8" y2="252.4" stroke="#555" stroke-width="0.7"/>
<text class="t" x="249.4" y="425.6" font-size="6.5" text-anchor="middle">140</text>
<line x1="284.7" y1="415.7" x2="284.7" y2="413.7" stroke="#555" stroke-width="0.7"/>
<line x1="284.7" y1="250.4" x2="284.7" y2="252.4" stroke="#555" stroke-width="0.7"/>
<text class="t" x="284.3" y="425.6" font-size="6.5" text-anchor="middle">160</text>
<line x1="319.6" y1="415.7" x2="319.6" y2="413.7" stroke="#555" stroke-width="0.7"/>
<line x1="319.6" y1="250.4" x2="319.6" y2="252.4" stroke="#555" stroke-width="0.7"/>
<text class="t" x="319.2" y="425.6" font-size="6.5" text-anchor="middle">180</text>
<line x1="354.5" y1="415.7" x2="354.5" y2="413.7" stroke="#555" stroke-width="0.7"/>
<line x1="354.5" y1="250.4" x2="354.5" y2="252.4" stroke="#555" stroke-width="0.7"/>
<text class="t" x="354.1" y="425.6" font-size="6.5" text-anchor="middle">200</text>
<line x1="389.4" y1="415.7" x2="389.4" y2="413.7" stroke="#555" stroke-width="0.7"/>
<line x1="389.4" y1="250.4" x2="389.4" y2="252.4" stroke="#555" stroke-width="0.7"/>
<text class="t" x="389.0" y="425.6" font-size="6.5" text-anchor="middle">220</text>
<line x1="180.0" y1="415.7" x2="182.0" y2="415.7" stroke="#555" stroke-width="0.7"/>
<line x1="389.4" y1="415.7" x2="387.4" y2="415.7" stroke="#555" stroke-width="0.7"/>
<text class="t" x="177.2" y="418.8" font-size="6.5" text-anchor="end">0</text>
<line x1="180.0" y1="388.1" x2="182.0" y2="388.1" stroke="#555" stroke-width="0.7"/>
<line x1="389.4" y1="388.1" x2="387.4" y2="388.1" stroke="#555" stroke-width="0.7"/>
<text class="t" x="177.2" y="391.2" font-size="6.5" text-anchor="end">1000</text>
<line x1="180.0" y1="360.6" x2="182.0" y2="360.6" stroke="#555" stroke-width="0.7"/>
<line x1="389.4" y1="360.6" x2="387.4" y2="360.6" stroke="#555" stroke-width="0.7"/>
<text class="t" x="177.2" y="363.7" font-size="6.5" text-anchor="end">2000</text>
<line x1="180.0" y1="333.1" x2="182.0" y2="333.1" stroke="#555" stroke-width="0.7"/>
<line x1="389.4" y1="333.1" x2="387.4" y2="333.1" stroke="#555" stroke-width="0.7"/>
<text class="t" x="177.2" y="336.2" font-size="6.5" text-anchor="end">3000</text>
<line x1="180.0" y1="305.5" x2="182.0" y2="305.5" stroke="#555" stroke-width="0.7"/>
<line x1="389.4" y1="305.5" x2="387.4" y2="305.5" stroke="#555" stroke-width="0.7"/>
<text class="t" x="177.2" y="308.6" font-size="6.5" text-anchor="end">4000</text>
<line x1="180.0" y1="278.0" x2="182.0" y2="278.0" stroke="#555" stroke-width="0.7"/>
<line x1="389.4" y1="278.0" x2="387.4" y2="278.0" stroke="#555" stroke-width="0.7"/>
<text class="t" x="177.2" y="281.1" font-size="6.5" text-anchor="end">5000</text>
<line x1="180.0" y1="250.4" x2="182.0" y2="250.4" stroke="#555" stroke-width="0.7"/>
<line x1="389.4" y1="250.4" x2="387.4" y2="250.4" stroke="#555" stroke-width="0.7"/>
<text class="t" x="177.2" y="253.5" font-size="6.5" text-anchor="end">6000</text>
<line x1="245" y1="266.6" x2="333" y2="266.6" stroke="#111" stroke-width="1.6"/>
<circle cx="245.4" cy="267.3" r="2.05" fill="none" stroke="#26479a" stroke-width="1.3"/>
<circle cx="255.7" cy="267.7" r="2.05" fill="none" stroke="#26479a" stroke-width="1.3"/>
<circle cx="266.1" cy="268.1" r="2.05" fill="none" stroke="#26479a" stroke-width="1.3"/>
<circle cx="276.4" cy="268.5" r="2.05" fill="none" stroke="#26479a" stroke-width="1.3"/>
<circle cx="286.7" cy="268.9" r="2.05" fill="none" stroke="#26479a" stroke-width="1.3"/>
<circle cx="297.0" cy="269.2" r="2.05" fill="none" stroke="#26479a" stroke-width="1.3"/>
<circle cx="307.4" cy="269.6" r="2.05" fill="none" stroke="#26479a" stroke-width="1.3"/>
<circle cx="317.7" cy="270.0" r="2.05" fill="none" stroke="#26479a" stroke-width="1.3"/>
<circle cx="328.0" cy="270.4" r="2.05" fill="none" stroke="#26479a" stroke-width="1.3"/>
<line x1="204.9" y1="377.5" x2="378.2" y2="366.9" stroke="#111" stroke-width="1.6"/>
<circle cx="204.9" cy="377.5" r="2.05" fill="#26479a" fill-opacity="0.4" stroke="#26479a" stroke-width="1.3"/>
<circle cx="211.8" cy="377.1" r="2.05" fill="#26479a" fill-opacity="0.4" stroke="#26479a" stroke-width="1.3"/>
<circle cx="218.8" cy="376.7" r="2.05" fill="#26479a" fill-opacity="0.4" stroke="#26479a" stroke-width="1.3"/>
<circle cx="225.7" cy="376.2" r="2.05" fill="#26479a" fill-opacity="0.4" stroke="#26479a" stroke-width="1.3"/>
<circle cx="232.6" cy="375.8" r="2.05" fill="#26479a" fill-opacity="0.4" stroke="#26479a" stroke-width="1.3"/>
<circle cx="239.6" cy="375.4" r="2.05" fill="#26479a" fill-opacity="0.4" stroke="#26479a" stroke-width="1.3"/>
<circle cx="246.5" cy="375.0" r="2.05" fill="#26479a" fill-opacity="0.4" stroke="#26479a" stroke-width="1.3"/>
<circle cx="253.4" cy="374.5" r="2.05" fill="#26479a" fill-opacity="0.4" stroke="#26479a" stroke-width="1.3"/>
<circle cx="260.4" cy="374.1" r="2.05" fill="#26479a" fill-opacity="0.4" stroke="#26479a" stroke-width="1.3"/>
<circle cx="267.3" cy="373.7" r="2.05" fill="#26479a" fill-opacity="0.4" stroke="#26479a" stroke-width="1.3"/>
<circle cx="274.2" cy="373.3" r="2.05" fill="#26479a" fill-opacity="0.4" stroke="#26479a" stroke-width="1.3"/>
<circle cx="281.2" cy="372.8" r="2.05" fill="#26479a" fill-opacity="0.4" stroke="#26479a" stroke-width="1.3"/>
<circle cx="288.1" cy="372.4" r="2.05" fill="#26479a" fill-opacity="0.4" stroke="#26479a" stroke-width="1.3"/>
<circle cx="295.0" cy="372.0" r="2.05" fill="#26479a" fill-opacity="0.4" stroke="#26479a" stroke-width="1.3"/>
<circle cx="301.9" cy="371.6" r="2.05" fill="#26479a" fill-opacity="0.4" stroke="#26479a" stroke-width="1.3"/>
<circle cx="308.9" cy="371.1" r="2.05" fill="#26479a" fill-opacity="0.4" stroke="#26479a" stroke-width="1.3"/>
<circle cx="315.8" cy="370.7" r="2.05" fill="#26479a" fill-opacity="0.4" stroke="#26479a" stroke-width="1.3"/>
<circle cx="322.7" cy="370.3" r="2.05" fill="#26479a" fill-opacity="0.4" stroke="#26479a" stroke-width="1.3"/>
<circle cx="329.7" cy="369.9" r="2.05" fill="#26479a" fill-opacity="0.4" stroke="#26479a" stroke-width="1.3"/>
<circle cx="336.6" cy="369.4" r="2.05" fill="#26479a" fill-opacity="0.4" stroke="#26479a" stroke-width="1.3"/>
<circle cx="343.5" cy="369.0" r="2.05" fill="#26479a" fill-opacity="0.4" stroke="#26479a" stroke-width="1.3"/>
<circle cx="350.5" cy="368.6" r="2.05" fill="#26479a" fill-opacity="0.4" stroke="#26479a" stroke-width="1.3"/>
<circle cx="357.4" cy="368.2" r="2.05" fill="#26479a" fill-opacity="0.4" stroke="#26479a" stroke-width="1.3"/>
<circle cx="364.3" cy="367.7" r="2.05" fill="#26479a" fill-opacity="0.4" stroke="#26479a" stroke-width="1.3"/>
<circle cx="371.3" cy="367.3" r="2.05" fill="#26479a" fill-opacity="0.4" stroke="#26479a" stroke-width="1.3"/>
<circle cx="378.2" cy="366.9" r="2.05" fill="#26479a" fill-opacity="0.4" stroke="#26479a" stroke-width="1.3"/>
<text class="s" x="208" y="270.5" font-size="13">S<tspan font-size="7.6">0</tspan></text>
<text class="s" x="227" y="398.3" font-size="13">A<tspan font-size="7.6">0</tspan></text>
<text class="t" x="260" y="435" font-size="7.3" textLength="49.6" lengthAdjust="spacingAndGlyphs">Frequency, kHz</text>
<text class="t" transform="translate(158.3,363.6) rotate(-90)" font-size="7.4" textLength="62" lengthAdjust="spacingAndGlyphs">Phase velocity, m/s</text>
<text class="s" x="280.1" y="450.9" font-size="14.2" font-weight="bold" text-anchor="middle">c</text>
</g>
</svg></body></html>
